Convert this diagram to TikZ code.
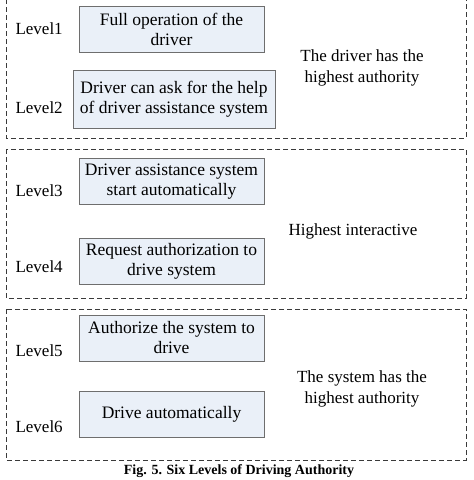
\documentclass[tikz,border=0pt]{standalone}
\usepackage{fontspec}
\setmainfont{Liberation Serif}
\usepackage{xcolor}
\usetikzlibrary{positioning}
\definecolor{BoxFill}{HTML}{EAF0F8}
\definecolor{BoxLine}{HTML}{6E6E6E}
\definecolor{PanelLine}{HTML}{3A3A3A}

\begin{document}
\begin{tikzpicture}[x=1pt,y=-1pt,
  level/.style={anchor=west,font=\fontsize{17}{20}\selectfont},
  stage/.style={draw=BoxLine,fill=BoxFill,line width=.9pt,minimum height=46pt,align=center,inner sep=1pt,font=\fontsize{17.5}{20}\selectfont},
  note/.style={align=center,font=\fontsize{17}{21}\selectfont},
  panel/.style={draw=PanelLine,dashed,dash pattern=on 5pt off 3pt,line width=.8pt}
]
\useasboundingbox (0,0) rectangle (474,480);
% dashed groups
\draw[panel] (6,-1) rectangle (466,138);
\draw[panel] (6,149) rectangle (466,298);
\draw[panel] (6,309) rectangle (466,460);
% levels 1-2
\node[stage,minimum width=185pt] (full) at (171.5,29) {Full operation of the\\driver};
\node[stage,minimum width=202pt,minimum height=58pt] (ask) at (174,99) {Driver can ask for the help\\of driver assistance system};
\node[level] (lv1) at (12,29) {Level1};
\node[level] (lv2) at (12,108) {Level2};
\node[note] (drv) at (362,68) {The driver has the\\highest authority};
% levels 3-4
\node[stage,minimum width=185pt] (start) at (171.5,181.5) {Driver assistance system\\start automatically};
\node[stage,minimum width=185pt] (req) at (171.5,261) {Request authorization to\\drive system};
\node[level] (lv3) at (12,191) {Level3};
\node[level] (lv4) at (12,267) {Level4};
\node[note] (inter) at (353,231) {Highest interactive};
% levels 5-6
\node[stage,minimum width=185pt] (auth) at (171.5,338) {Authorize the system to\\drive};
\node[stage,minimum width=185pt] (auto) at (171.5,414.5) {Drive automatically};
\node[level] (lv5) at (12,351) {Level5};
\node[level] (lv6) at (12,427) {Level6};
\node[note] (sys) at (362,389) {The system has the\\highest authority};
% caption
\node[font=\bfseries\fontsize{14}{16}\selectfont] (cap) at (239,471) {Fig. 5. Six Levels of Driving Authority};
\end{tikzpicture}
\end{document}
